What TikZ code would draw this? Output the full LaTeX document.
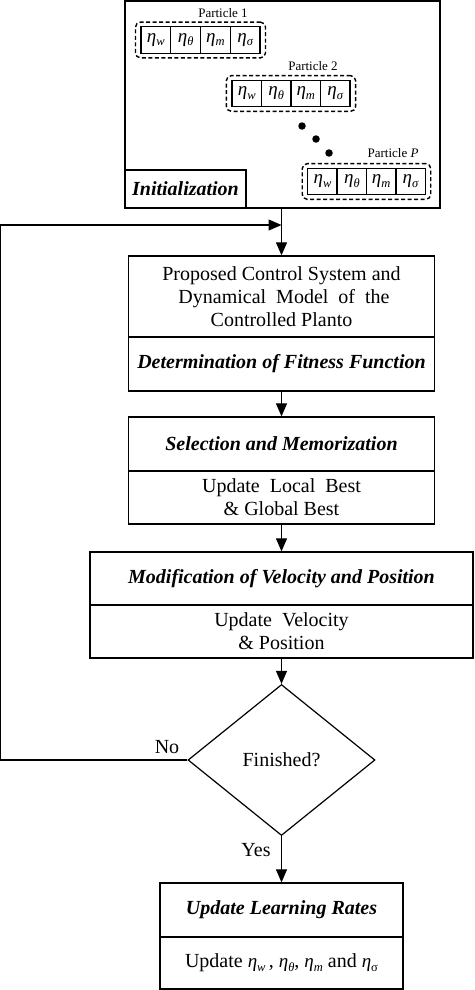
\documentclass[tikz,border=0pt]{standalone}
\usepackage{fontspec}
\setmainfont{Liberation Serif}
\usetikzlibrary{shapes.geometric,arrows.meta,fit}
\newcommand\etaof[2][]{{\fontsize{19}{20}\selectfont\textit{η}}\raisebox{-3.5pt}{\fontsize{12.5}{13}\selectfont#1{#2}}}
\tikzset{
  arr/.style={line width=1.2pt,-{Triangle[length=13pt,width=11pt]}},
  boxpart/.style={draw,line width=1.3pt,rectangle,inner sep=0pt,align=center,font=\fontsize{20}{23}\selectfont},
  titletext/.style={font=\fontsize{20}{23}\selectfont\bfseries\itshape},
  cell/.style={draw,line width=1.2pt,rectangle,inner sep=0pt,minimum width=29.6pt,minimum height=26.5pt},
  pgroup/.style={draw,line width=1.4pt,dash pattern=on 4pt off 2.5pt,rounded corners=5pt,inner xsep=5pt,inner ysep=4pt},
  plabel/.style={font=\fontsize{13}{15}\selectfont,inner sep=0pt},
  lbl/.style={font=\fontsize{20}{23}\selectfont,inner sep=0pt},
  dot/.style={circle,fill=black,inner sep=0pt,minimum size=7.5pt}
}
\begin{document}
\begin{tikzpicture}[x=1pt,y=-1pt]
\useasboundingbox (0,0) rectangle (474,990);
% Initialization frame
\node[boxpart,minimum width=315pt,minimum height=207pt] (init) at (282.5,104.5) {};
\node[boxpart,minimum width=121pt,minimum height=38pt,titletext] (initlbl) at (185.5,189) {Initialization};
% Particle 1
\foreach \i/\t in {1/w,2/θ,3/m,4/σ}{
  \node[cell] (pa\i) at ({141+29.75*(\i-0.5)},40) {\etaof[\itshape]{\t}};
}
\node[pgroup,fit=(pa1)(pa4)] (ga) {};
\node[plabel] (la) at (223,13) {Particle 1};
% Particle 2
\foreach \i/\t in {1/w,2/θ,3/m,4/σ}{
  \node[cell] (pb\i) at ({232+29.5*(\i-0.5)},93.5) {\etaof[\itshape]{\t}};
}
\node[pgroup,fit=(pb1)(pb4)] (gb) {};
\node[plabel] (lb) at (313,66) {Particle 2};
% Particle P
\foreach \i/\t in {1/w,2/θ,3/m,4/σ}{
  \node[cell] (pc\i) at ({308+29.25*(\i-0.5)},181.5) {\etaof[\itshape]{\t}};
}
\node[pgroup,fit=(pc1)(pc4)] (gc) {};
\node[plabel] (lc) at (393,153) {Particle \textit{P}};
% dots
\node[dot] (d1) at (302,126) {};
\node[dot] (d2) at (316,139) {};
\node[dot] (d3) at (329,153) {};
% Box 2
\node[boxpart,minimum width=306pt,minimum height=81pt] (b2a) at (281.5,296.5) {Proposed Control System and\\ \ Dynamical\ \ Model\ \ of\ \ the\\ Controlled Planto};
\node[boxpart,minimum width=306pt,minimum height=54pt,titletext] (b2b) at (281.5,364) {Determination of Fitness Function};
% Box 3
\node[boxpart,minimum width=306pt,minimum height=54pt,titletext] (b3a) at (281.5,444) {Selection and Memorization};
\node[boxpart,minimum width=306pt,minimum height=53pt] (b3b) at (281.5,497.5) {Update\ \ Local\ \ Best\\ \& Global Best};
% Box 4
\node[boxpart,minimum width=383pt,minimum height=53pt,titletext] (b4a) at (281.5,578.5) {Modification of Velocity and Position};
\node[boxpart,minimum width=383pt,minimum height=53pt] (b4b) at (281.5,631.5) {Update\ \ Velocity\\ \& Position};
% Decision
\node[draw,line width=1.2pt,diamond,minimum width=187pt,minimum height=151pt,inner sep=0pt,font=\fontsize{20}{23}\selectfont] (dia) at (281.5,760) {Finished?};
\node[lbl] (no) at (167,747) {No};
\node[lbl] (yes) at (256,850) {Yes};
% Box 5
\node[boxpart,minimum width=243pt,minimum height=54pt,titletext] (b5a) at (281.5,910) {Update Learning Rates};
\node[boxpart,minimum width=243pt,minimum height=52pt] (b5b) at (281.5,963) {Update \etaof[\itshape]{w}\,, \etaof[\itshape]{θ}, \etaof[\itshape]{m} and \etaof{σ}};
% Connectors
\coordinate (j) at (281.5,225);
\coordinate (fbl) at (0.3,760);
\draw[arr] (init.south -| b2a.north) -- (b2a.north);
\draw[arr] (dia.west) -- (fbl) |- (j);
\draw[arr] (b2b.south) -- (b3a.north);
\draw[arr] (b3b.south) -- (b4a.north);
\draw[arr] (b4b.south) -- (dia.north);
\draw[arr] (dia.south) -- (b5a.north);
\end{tikzpicture}
\end{document}
